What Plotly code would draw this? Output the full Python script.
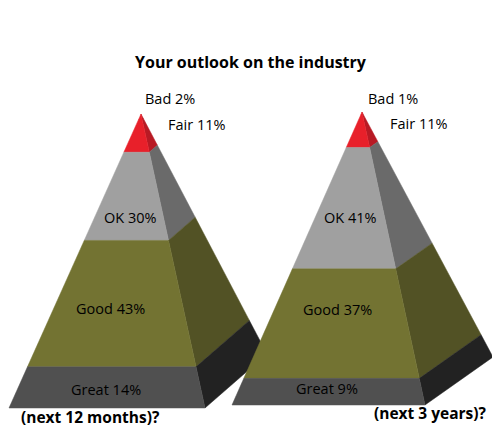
import plotly.graph_objects as go

categories = ["Bad", "Fair", "OK", "Good", "Great"]
values_12m = [2, 11, 30, 43, 14]
values_3y = [1, 11, 41, 37, 9]
subtitles = ["(next 12 months)?", "(next 3 years)?"]
title = "Your outlook on the industry"

front_colors = ["#e8202a", "#e8202a", "#a0a0a0", "#737332", "#505050"]
side_colors = ["#b81a24", "#b81a24", "#6a6a6a", "#525225", "#222222"]

geoms = [
    dict(apex=(141, 114), fl=(9, 408), fr=(205, 408), br=(267, 354)),
    dict(apex=(362, 112), fl=(232, 405), fr=(425, 405), br=(493, 357)),
]
label_pos = [
    dict(Bad=(170, 98), Fair=(196, 124), OK=(130, 217), Good=(110, 308), Great=(106, 389)),
    dict(Bad=(393, 98), Fair=(418, 123), OK=(350, 217), Good=(337, 309), Great=(327, 388)),
]
sub_pos = [(90, 417), (430, 413)]

def lerp(a, b, t):
    return (a[0] + (b[0] - a[0]) * t, a[1] + (b[1] - a[1]) * t)

fig = go.Figure()
for g, vals in zip(geoms, [values_12m, values_3y]):
    cum = [0]
    for v in vals:
        cum.append(cum[-1] + v)
    tot = cum[-1]
    for i in range(len(vals)):
        t0, t1 = cum[i] / tot, cum[i + 1] / tot
        if t1 == t0:
            continue
        a = g["apex"]
        fl0, fl1 = lerp(a, g["fl"], t0), lerp(a, g["fl"], t1)
        fr0, fr1 = lerp(a, g["fr"], t0), lerp(a, g["fr"], t1)
        br0, br1 = lerp(a, g["br"], t0), lerp(a, g["br"], t1)
        for pts, col in [([fr0, br0, br1, fr1], side_colors[i]), ([fl0, fr0, fr1, fl1], front_colors[i])]:
            xs = [p[0] for p in pts] + [pts[0][0]]
            ys = [p[1] for p in pts] + [pts[0][1]]
            fig.add_trace(go.Scatter(x=xs, y=ys, fill="toself", fillcolor=col, mode="lines",
                                     line=dict(width=0.5, color=col), hoverinfo="skip", showlegend=False))

for lp, vals in zip(label_pos, [values_12m, values_3y]):
    for c, v in zip(categories, vals):
        x, y = lp[c]
        fig.add_annotation(x=x, y=y, text=f"{c} {v}%", showarrow=False,
                           font=dict(size=14.5, color="black", family="Open Sans"))
for (x, y), s in zip(sub_pos, subtitles):
    fig.add_annotation(x=x, y=y, text=f"<b>{s}</b>", showarrow=False,
                       font=dict(size=15.5, color="black", family="Open Sans"))
fig.add_annotation(x=251, y=62, text=f"<b>{title}</b>", showarrow=False,
                   font=dict(size=16, color="black", family="Open Sans"))

fig.update_layout(width=500, height=429, margin=dict(l=0, r=0, t=0, b=0),
                  plot_bgcolor="white", paper_bgcolor="white",
                  xaxis=dict(range=[8, 508], visible=False),
                  yaxis=dict(range=[437, 8], visible=False))
fig.write_html("out.html", config={"displayModeBar": False})
